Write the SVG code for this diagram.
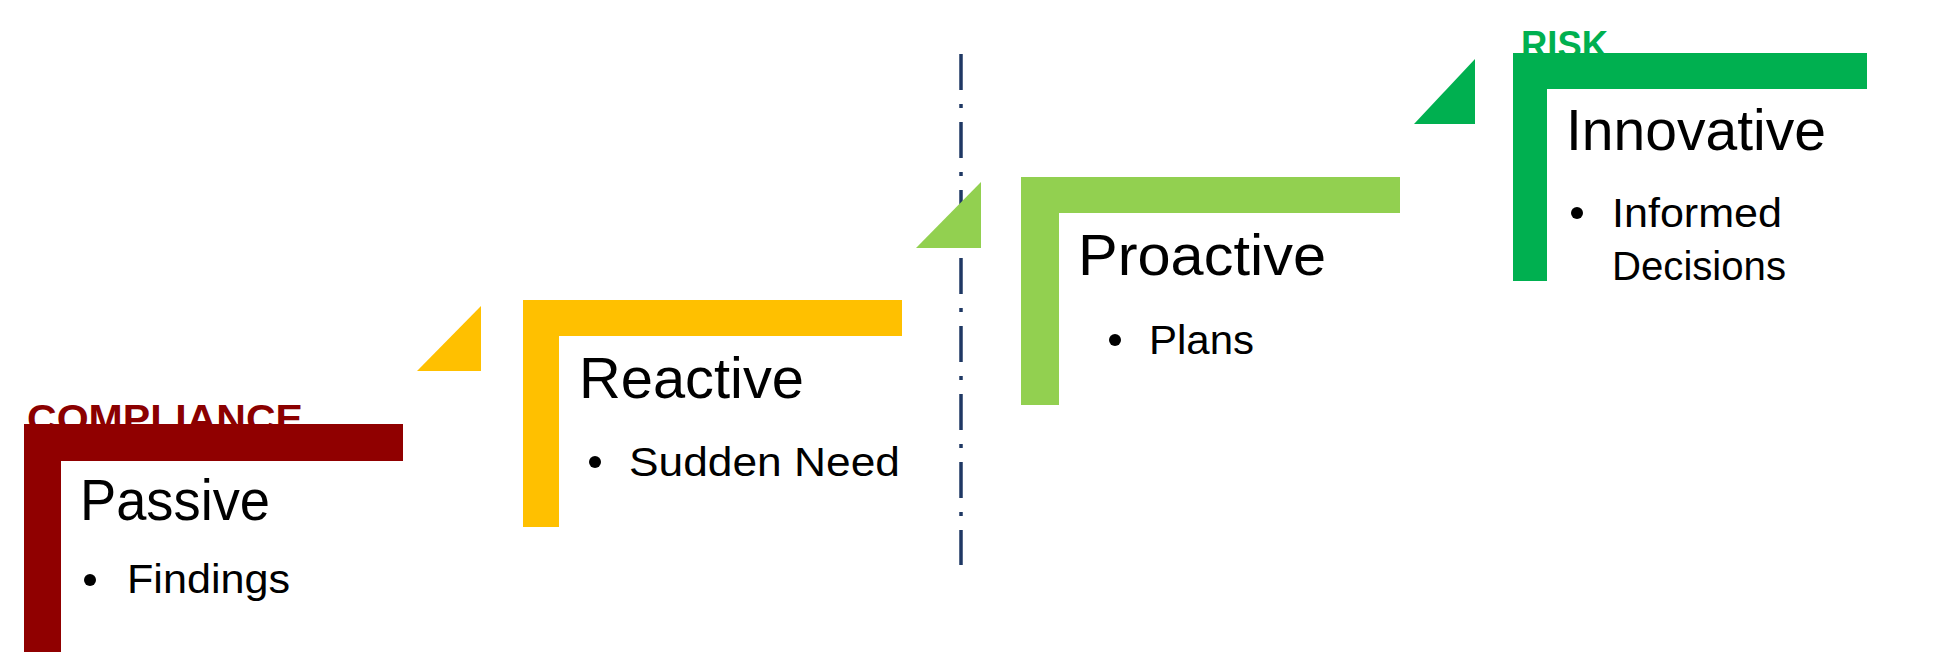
<svg xmlns="http://www.w3.org/2000/svg" width="1960" height="652" viewBox="0 0 1960 652">
<style>
.t{font-family:"Liberation Sans","Noto Sans",sans-serif;fill:#000}
.h{font-size:58px}
.b{font-size:40px}
.lab{font-family:"Liberation Sans",sans-serif;font-weight:bold;font-size:38px}
</style>
<rect width="1960" height="652" fill="#fff"/>
<g id="connectors">
<line x1="961" y1="54" x2="961" y2="565" stroke="#1f3864" stroke-width="3.5" stroke-dasharray="36,14,4,14"/>
</g>
<g id="passive">
<text class="lab" x="27" y="432" fill="#8b0000" textLength="276" lengthAdjust="spacingAndGlyphs">COMPLIANCE</text>
<path d="M24 424H403V461H61V652H24Z" fill="#900000"/>
<text class="t h" x="80" y="520" textLength="190" lengthAdjust="spacingAndGlyphs">Passive</text>
<circle cx="90" cy="580" r="6"/>
<text class="t b" x="127" y="593" textLength="163" lengthAdjust="spacingAndGlyphs">Findings</text>
</g>
<g id="reactive">
<polygon points="417,371 481,306 481,371" fill="#ffc000"/>
<path d="M523 300H902V336H559V527H523Z" fill="#ffc000"/>
<text class="t h" x="579" y="398" textLength="225" lengthAdjust="spacingAndGlyphs">Reactive</text>
<circle cx="595" cy="462" r="6"/>
<text class="t b" x="629" y="476" textLength="271" lengthAdjust="spacingAndGlyphs">Sudden Need</text>
</g>
<g id="proactive">
<polygon points="916,248 981,182 981,248" fill="#92d050"/>
<path d="M1021 177H1400V213H1059V405H1021Z" fill="#92d050"/>
<text class="t h" x="1078" y="275" textLength="248" lengthAdjust="spacingAndGlyphs">Proactive</text>
<circle cx="1115" cy="340" r="6"/>
<text class="t b" x="1149" y="354" textLength="105" lengthAdjust="spacingAndGlyphs">Plans</text>
</g>
<g id="innovative">
<text class="lab" x="1521" y="58" fill="#00b050" textLength="87" lengthAdjust="spacingAndGlyphs">RISK</text>
<polygon points="1414,124 1475,59 1475,124" fill="#00b050"/>
<path d="M1513 53H1867V89H1547V281H1513Z" fill="#00b050"/>
<text class="t h" x="1566" y="150" textLength="260" lengthAdjust="spacingAndGlyphs">Innovative</text>
<circle cx="1577" cy="213" r="6"/>
<text class="t b" x="1612" y="227" textLength="170" lengthAdjust="spacingAndGlyphs">Informed</text>
<text class="t b" x="1612" y="280" textLength="174" lengthAdjust="spacingAndGlyphs">Decisions</text>
</g>
</svg>
